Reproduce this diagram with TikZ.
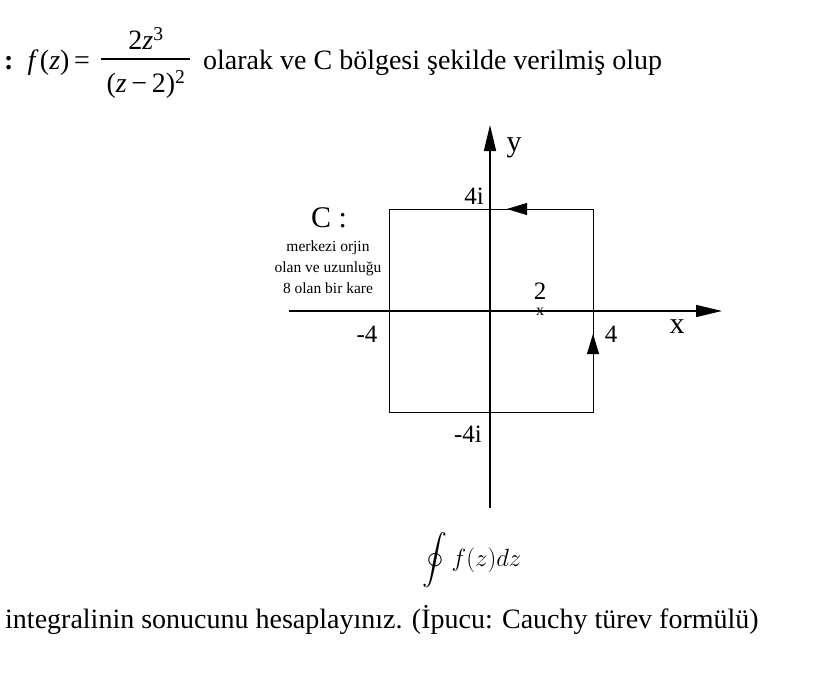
\documentclass[tikz,border=0pt]{standalone}
\usepackage{amsmath}
\usepackage{fontspec}
\setmainfont{Liberation Serif}
\usetikzlibrary{arrows.meta}
\begin{document}
\begin{tikzpicture}[x=1pt,y=-1pt,
  ax/.style={line width=1.6pt,-{Triangle[length=26pt,width=12pt]}},
  sq/.style={line width=0.8pt},
  big/.style={font=\fontsize{28}{32}\selectfont,inner sep=0pt},
  lbl/.style={font=\fontsize{25}{28}\selectfont,inner sep=0pt}]
\useasboundingbox (0,0) rectangle (840,690);
\node[big,anchor=base west] (fz) at (4,70) {\textbf{:}\ \ \textit{f\,}(\textit{z})\,=};
\node[big,anchor=base] (num) at (146,50) {2\textit{z}\textsuperscript{3}};
\node[big,anchor=base] (den) at (146,93) {(\textit{z}\,−\,2)\textsuperscript{2}};
\coordinate (fl) at (101,59); \coordinate (fr) at (190,59);
\draw[line width=1.3pt] (fl) -- (fr);
\node[big,anchor=base west] (top) at (203,70) {olarak ve C bölgesi şekilde verilmiş olup};
\coordinate (xl) at (289,311); \coordinate (xr) at (722,311);
\coordinate (yb) at (490,508); \coordinate (yt) at (490,125);
\draw[ax] (xl) -- (xr);
\draw[ax] (yb) -- (yt);
\coordinate (A) at (389,209); \coordinate (B) at (593,209);
\coordinate (Cc) at (593,412); \coordinate (D) at (389,412);
\draw[sq] (A) -- (B) -- (Cc) -- (D) -- cycle;
\coordinate (a1) at (528,209); \coordinate (a2) at (507,209);
\draw[-{Triangle[length=20pt,width=12pt]},line width=0.8pt] (a1) -- (a2);
\coordinate (b1) at (593,356); \coordinate (b2) at (593,334);
\draw[-{Triangle[length=20pt,width=12pt]},line width=0.8pt] (b1) -- (b2);
\node[lbl,font=\fontsize{30}{32}\selectfont] (ylab) at (514,148) {y};
\node[lbl,font=\fontsize{30}{32}\selectfont] (xlab) at (677,327) {x};
\node[lbl] (l4i) at (474,196) {4i};
\node[lbl] (lm4i) at (468,434) {-4i};
\node[lbl] (lm4) at (367,334) {-4};
\node[lbl] (l4) at (611,334) {4};
\node[lbl] (l2) at (540,291) {2};
\node[inner sep=0pt,font=\fontsize{16}{16}\selectfont] (lx) at (540,312) {x};
\node[lbl,font=\fontsize{30}{32}\selectfont] (Cl) at (329,218) {C :};
\node[inner sep=0pt,align=center,font=\fontsize{15.5}{21}\selectfont] (desc) at (328,267)
 {merkezi orjin\\olan ve uzunluğu\\8 olan bir kare};
\node[inner sep=0pt,font=\fontsize{26}{30}\selectfont] (int) at (472,560) {$\displaystyle\oint f(z)dz$};
\node[anchor=west,inner sep=0pt,font=\fontsize{28}{32}\selectfont] (bot) at (5,620)
 {integralinin sonucunu hesaplayınız. (İpucu: Cauchy türev formülü)};
\end{tikzpicture}
\end{document}
